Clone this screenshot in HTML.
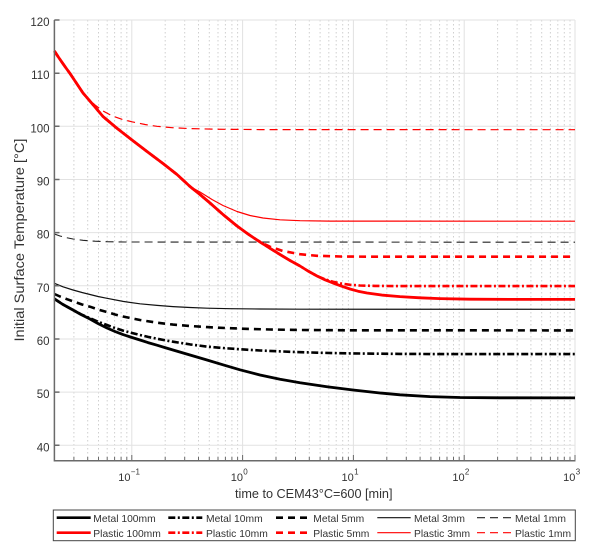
<!DOCTYPE html>
<html><head><meta charset="utf-8"><style>
html,body{margin:0;padding:0;background:#fff;}
svg{display:block;}
text{font-family:"Liberation Sans",Arial,sans-serif;fill:#333;}
</style></head><body>
<svg width="600" height="558" viewBox="0 0 600 558" xmlns="http://www.w3.org/2000/svg">
<rect width="600" height="558" fill="#fff"/>
<!-- minor vertical grid -->
<g stroke="#cfcfcf" stroke-width="1" stroke-dasharray="1.5,2.5" fill="none">
<path d="M73.9 20V460M87.7 20V460M98.5 20V460M107.2 20V460M114.6 20V460M121.1 20V460M126.8 20V460
M165.2 20V460M184.7 20V460M198.5 20V460M209.3 20V460M218 20V460M225.4 20V460M231.9 20V460M237.6 20V460
M276 20V460M295.5 20V460M309.3 20V460M320.1 20V460M328.8 20V460M336.2 20V460M342.7 20V460M348.4 20V460
M386.8 20V460M406.3 20V460M420.1 20V460M430.9 20V460M439.6 20V460M447 20V460M453.5 20V460M459.2 20V460
M497.6 20V460M517.1 20V460M530.9 20V460M541.7 20V460M550.4 20V460M557.8 20V460M564.3 20V460M570 20V460"/>
</g>
<!-- major grid -->
<g stroke="#e2e2e2" stroke-width="1" fill="none">
<path d="M131.8 20V460M242.6 20V460M353.4 20V460M464.2 20V460M575 20V460"/>
<path d="M54 20H575M54 73.2H575M54 126.3H575M54 179.5H575M54 232.6H575M54 285.8H575M54 339H575M54 392.1H575M54 445.3H575"/>
</g>

<!-- Metal curves -->
<g fill="none" stroke-linejoin="round">
<polyline stroke="#222" stroke-width="1.1" stroke-dasharray="8,5" points="54.4,234 60,236 66,237.6 73,239 83,240.3 95,241.2 107,241.7 125,242 575,242.2"/>
<polyline stroke="#111" stroke-width="1.2" points="54.4,283.3 63,286.8 73,290 82,292.5 90,294.5 98,296.5 107,298.3 123,301.4 140,303.8 157,305.4 173,306.6 190,307.5 207,308.2 230,308.7 260,309 300,309.2 575,309.3"/>
<polyline stroke="#000" stroke-width="2.6" stroke-dasharray="7,5" points="54.4,294 60,296.5 67,299.2 75,302 82,304.5 90,306.7 98,309.5 107,312 115,314.5 123,316.5 140,320 157,322.7 173,324.6 190,326 207,327.1 225,328 245,328.8 270,329.5 300,330 350,330.3 575,330.4"/>
<polyline stroke="#000" stroke-width="2.6" stroke-dasharray="7,2.5,2,2.5" points="54.4,298.7 63,304.5 73,310 81,314.3 90,318.2 98,321.7 107,325 115,328 123,330.6 132,333 140,335 148,336.9 157,338.7 165,340.3 173,341.7 190,344.4 207,346.6 225,348.2 245,349.6 260,350.5 290,351.8 317,352.7 350,353.4 400,353.9 450,354.1 575,354.1"/>
<polyline stroke="#000" stroke-width="2.8" points="54.4,299 63,304.5 73,310 81,314.5 90,319 98,323.5 107,328 115,331.5 123,334.6 132,337.5 140,340 148,342.6 157,345.2 165,347.6 173,350 190,355 207,360 223,364.8 240,369.8 260,375 280,379.2 300,382.7 327,386.7 353,390 380,393 400,394.8 430,396.6 460,397.5 500,397.8 575,397.9"/>
</g>

<!-- Plastic curves -->
<g fill="none" stroke="#ff0000" stroke-linejoin="round">
<polyline stroke-width="1.2" stroke-dasharray="8,5" points="54.4,51 58,56.5 62,62.3 66,68 70,73.5 76,82.5 83,93 88,98.5 95,105 103,111 112,115.8 122,119.3 132,121.8 145,124.5 157,126.3 172,127.7 190,128.6 215,129.2 260,129.6 575,129.7"/>
<polyline stroke-width="1.2" points="54.4,51 58,56.5 62,62.3 66,68 70,73.5 76,82.5 83,93 92,103.5 103,116.5 116,127.5 132,140 147,151.5 163,163.5 177,174.5 190,186.5 200,192 212,199.5 223,205.5 237,211.5 250,215.5 263,218 280,219.8 300,220.7 330,221.1 575,221.2"/>
<polyline stroke-width="2.6" stroke-dasharray="7,5" points="54.4,51 58,56.5 62,62.3 66,68 70,73.5 76,82.5 83,93 92,103.5 103,116.5 116,127.5 132,140 147,151.5 163,163.5 177,174.5 190,186.5 200,194.5 210,203 223,214.5 237,226 248,234 255,238.7 262,242.8 270,246.8 283,251 300,254.2 317,255.8 340,256.5 370,256.7 575,256.7"/>
<polyline stroke-width="2.6" stroke-dasharray="7,2.5,2,2.5" points="54.4,51 58,56.5 62,62.3 66,68 70,73.5 76,82.5 83,93 92,103.5 103,116.5 116,127.5 132,140 147,151.5 163,163.5 177,174.5 190,186.5 200,194.5 210,203 223,214.5 237,226 248,234 260,242 270,248.3 280,254.5 290,260.5 300,266 308,271 317,276 325,279.3 333,281.8 342,283.6 350,284.8 360,285.5 375,285.9 400,286.1 575,286.1"/>
<polyline stroke-width="2.8" points="54.4,51 58,56.5 62,62.3 66,68 70,73.5 76,82.5 83,93 92,103.5 103,116.5 116,127.5 132,140 147,151.5 163,163.5 177,174.5 190,186.5 200,194.5 210,203 223,214.5 237,226 248,234 260,242 270,248.3 280,254.5 290,260.5 300,266 308,271 317,276 325,279.8 333,283 342,286.3 350,289 358,291.2 367,293 383,295.2 400,296.6 420,297.8 440,298.6 470,299.2 520,299.4 575,299.4"/>
</g>

<!-- axes -->
<g stroke="#6a6a6a" stroke-width="1.5" fill="none">
<path d="M54.4 20V460.7H575.5"/>
<path d="M54.4 20H59.5M54.4 73.2H59.5M54.4 126.3H59.5M54.4 179.5H59.5M54.4 232.6H59.5M54.4 285.8H59.5M54.4 339H59.5M54.4 392.1H59.5M54.4 445.3H59.5"/>
</g>
<g stroke="#6a6a6a" stroke-width="1" fill="none">
<path d="M131.8 460V455M242.6 460V455M353.4 460V455M464.2 460V455M575 460V455"/>
<path d="M73.9 460V457M87.7 460V457M98.5 460V457M107.2 460V457M114.6 460V457M121.1 460V457M126.8 460V457
M165.2 460V457M184.7 460V457M198.5 460V457M209.3 460V457M218 460V457M225.4 460V457M231.9 460V457M237.6 460V457
M276 460V457M295.5 460V457M309.3 460V457M320.1 460V457M328.8 460V457M336.2 460V457M342.7 460V457M348.4 460V457
M386.8 460V457M406.3 460V457M420.1 460V457M430.9 460V457M439.6 460V457M447 460V457M453.5 460V457M459.2 460V457
M497.6 460V457M517.1 460V457M530.9 460V457M541.7 460V457M550.4 460V457M557.8 460V457M564.3 460V457M570 460V457"/>
</g>

<!-- y tick labels -->
<g font-size="11.5" text-anchor="end">
<text x="49.5" y="26">120</text>
<text x="49.5" y="79.2">110</text>
<text x="49.5" y="132.3">100</text>
<text x="49.5" y="185.5">90</text>
<text x="49.5" y="238.6">80</text>
<text x="49.5" y="291.8">70</text>
<text x="49.5" y="345">60</text>
<text x="49.5" y="398.1">50</text>
<text x="49.5" y="451.3">40</text>
</g>

<!-- x tick labels -->
<g font-size="11">
<text x="130.5" y="481" text-anchor="end">10</text><text x="130.8" y="474.5" font-size="8">−1</text>
<text x="243" y="481" text-anchor="end">10</text><text x="243.3" y="474.5" font-size="8">0</text>
<text x="353.8" y="481" text-anchor="end">10</text><text x="354.1" y="474.5" font-size="8">1</text>
<text x="464.6" y="481" text-anchor="end">10</text><text x="464.9" y="474.5" font-size="8">2</text>
<text x="575.4" y="481" text-anchor="end">10</text><text x="575.7" y="474.5" font-size="8">3</text>
</g>

<!-- axis labels -->
<text x="235" y="498" font-size="12.7" textLength="157.5" lengthAdjust="spacingAndGlyphs">time to CEM43°C=600 [min]</text>
<text transform="translate(24,240) rotate(-90)" text-anchor="middle" font-size="14" textLength="203" lengthAdjust="spacingAndGlyphs">Initial Surface Temperature [°C]</text>

<!-- legend -->
<rect x="53.3" y="510" width="522" height="30.7" fill="#fff" stroke="#444" stroke-width="1"/>
<g fill="none">
<line x1="56.7" y1="517.7" x2="90.7" y2="517.7" stroke="#000" stroke-width="2.6"/>
<line x1="56.7" y1="532.7" x2="90.7" y2="532.7" stroke="#f00" stroke-width="2.6"/>
<line x1="168.3" y1="517.7" x2="202.3" y2="517.7" stroke="#000" stroke-width="2.6" stroke-dasharray="7,2.5,2,2.5"/>
<line x1="168.3" y1="532.7" x2="202.3" y2="532.7" stroke="#f00" stroke-width="2.6" stroke-dasharray="7,2.5,2,2.5"/>
<line x1="276" y1="517.7" x2="310" y2="517.7" stroke="#000" stroke-width="2.6" stroke-dasharray="7,5"/>
<line x1="276" y1="532.7" x2="310" y2="532.7" stroke="#f00" stroke-width="2.6" stroke-dasharray="7,5"/>
<line x1="377.3" y1="517.7" x2="410.7" y2="517.7" stroke="#111" stroke-width="1.2"/>
<line x1="377.3" y1="532.7" x2="410.7" y2="532.7" stroke="#f00" stroke-width="1.2"/>
<line x1="477" y1="517.7" x2="512" y2="517.7" stroke="#222" stroke-width="1.1" stroke-dasharray="8,5"/>
<line x1="477" y1="532.7" x2="512" y2="532.7" stroke="#f00" stroke-width="1.1" stroke-dasharray="8,5"/>
</g>
<g font-size="10.3" fill="#262626">
<text x="93.3" y="522.2">Metal 100mm</text>
<text x="93.3" y="537.2">Plastic 100mm</text>
<text x="206" y="522.2">Metal 10mm</text>
<text x="206" y="537.2">Plastic 10mm</text>
<text x="313.3" y="522.2">Metal 5mm</text>
<text x="313.3" y="537.2">Plastic 5mm</text>
<text x="414" y="522.2">Metal 3mm</text>
<text x="414" y="537.2">Plastic 3mm</text>
<text x="515" y="522.2">Metal 1mm</text>
<text x="515" y="537.2">Plastic 1mm</text>
</g>
</svg>
</body></html>
